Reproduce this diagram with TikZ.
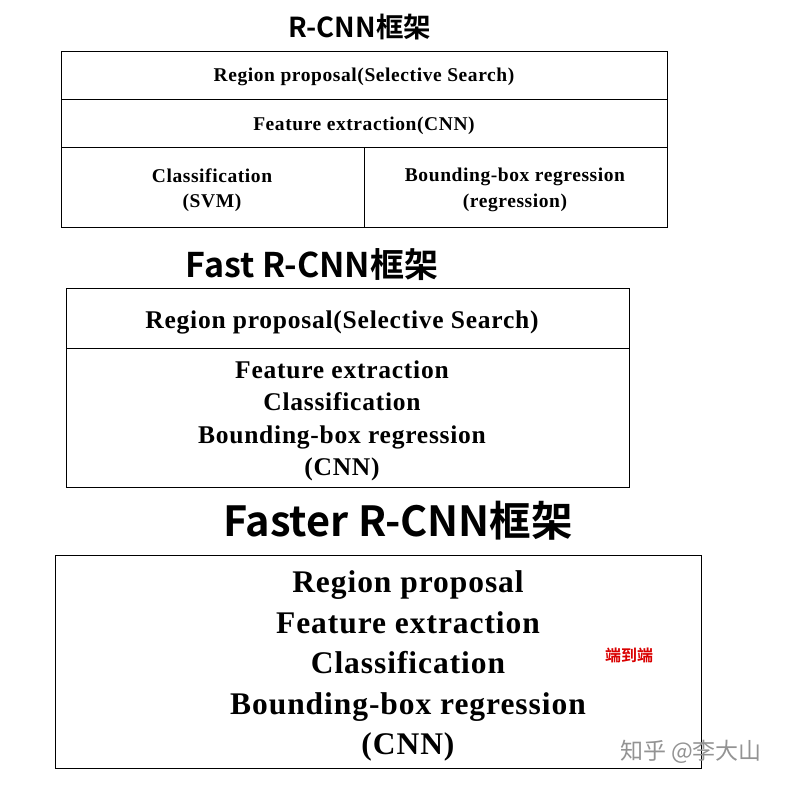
\documentclass[tikz,border=0pt]{standalone}
\usepackage{fontspec}
\setmainfont{Liberation Serif}[LetterSpace=3]
\newfontfamily\cjk{Noto Sans CJK SC}[BoldFont={* Bold}]
\begin{document}
\begin{tikzpicture}[x=1pt,y=-1pt,
  t/.style={font=\bfseries\fontsize{#1}{#1}\selectfont,align=center,inner sep=0},
  ttl/.style={font=\cjk\bfseries\fontsize{#1}{#1}\selectfont,inner sep=0},
  bx/.style={draw,line width=1pt}]
\useasboundingbox (0,0) rectangle (785,788);
% R-CNN
\node[ttl=27.5] (t1) at (360,27) {R-CNN框架};
\draw[bx] (61,51) rectangle (667,227);
\draw[line width=0.8pt] (61,99) -- (667,99) (61,147) -- (667,147) (364,147) -- (364,227);
\node[t=19.5] (a1) at (364,77) {Region proposal(Selective Search)};
\node[t=19.5] (a2) at (364,126) {Feature extraction(CNN)};
\node[t=19.5,align=center] (a3) at (212,190) {Classification\\[6pt](SVM)};
\node[t=19.5,align=center] (a4) at (515,190) {Bounding-box regression\\[6pt](regression)};
% Fast
\node[ttl=34] (t2) at (312,265) {Fast R-CNN框架};
\draw[bx] (66,288) rectangle (629,487);
\draw[line width=0.8pt] (66,348) -- (629,348);
\node[t=25.5] (b1) at (342,322) {Region proposal(Selective Search)};
\node[t=25.5,align=center] (b2) at (342,421) {Feature extraction\\[7pt]Classification\\[7pt]Bounding-box regression\\[7pt](CNN)};
% Faster
\node[ttl=41.5] (t3) at (398,521) {Faster R-CNN框架};
\draw[bx] (55,555) rectangle (701,768);
\node[t=31.5,align=center] (c1) at (408,666) {Region proposal\\[9pt]Feature extraction\\[9pt]Classification\\[9pt]Bounding-box regression\\[9pt](CNN)};
\node[font=\cjk\bfseries\fontsize{16}{16}\selectfont,text=red!85!black,inner sep=0] (r) at (629,655) {端到端};
\node[font=\cjk\fontsize{23}{23}\selectfont,text=gray!85,inner sep=0] (w) at (691,752) {知乎 @李大山};
\end{tikzpicture}
\end{document}
